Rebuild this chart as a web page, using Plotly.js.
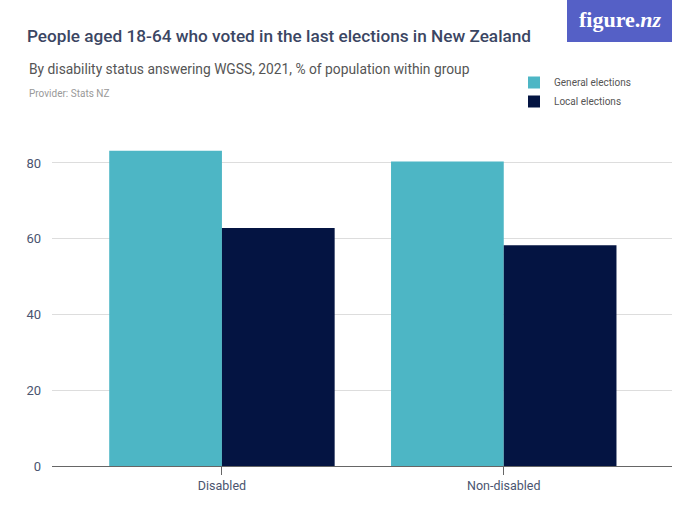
<!DOCTYPE html>
<html>
<head>
<meta charset="utf-8">
<script src="https://cdn.plot.ly/plotly-3.0.1.min.js"></script>
<style>html,body{margin:0;padding:0;background:#fff}#chart{width:700px;height:525px}</style>
</head>
<body>
<div id="chart"></div>
<script>
var categories = ["Disabled", "Non-disabled"];
var generalElections = [83.2, 80.4];
var localElections = [62.8, 58.3];
var seriesNames = ["General elections", "Local elections"];
var yTicks = [0, 20, 40, 60, 80];

var FONT = "Roboto, 'Liberation Sans', sans-serif";
var PH = 336; // plot height in px (bottom at y=466)
function py(pix) { return (466 - pix) / PH; }
function px(pix) { return (pix - 52) / 620; }

var traces = [
  {type: "bar", name: seriesNames[0], x: categories, y: generalElections,
   marker: {color: "#4db6c5"}, hoverinfo: "y"},
  {type: "bar", name: seriesNames[1], x: categories, y: localElections,
   marker: {color: "#041442"}, hoverinfo: "y"}
];

var layout = {
  width: 700, height: 525,
  margin: {l: 52, r: 28, t: 130, b: 59},
  paper_bgcolor: "#fff", plot_bgcolor: "#fff",
  font: {family: FONT, color: "#4a5570", size: 13},
  barmode: "group", bargap: 0.2, bargroupgap: 0,
  showlegend: true,
  legend: {x: px(514), y: py(68), xanchor: "left", yanchor: "top",
           font: {family: FONT, size: 10, color: "#555"},
           bgcolor: "rgba(0,0,0,0)", tracegroupgap: 0},
  xaxis: {type: "category", range: [-0.603, 1.597], showgrid: false,
          showline: true, linecolor: "#666", linewidth: 1,
          ticks: "outside", ticklen: 8, tickcolor: "#666",
          tickfont: {family: FONT, size: 12.5, color: "#4a5570"}, fixedrange: true},
  yaxis: {range: [0, 88.7], tickvals: yTicks, ticktext: yTicks.map(String),
          showgrid: true, gridcolor: "#dddddd", zeroline: false, showline: false,
          ticks: "", ticklabelstandoff: 10,
          tickfont: {family: FONT, size: 13, color: "#4a5570"}, fixedrange: true},
  title: {text: "People aged 18-64 who voted in the last elections in New Zealand",
          x: 27/700, xanchor: "left", xref: "container", y: 1 - 36/525, yref: "container", yanchor: "middle",
          font: {family: FONT, size: 17.2, color: "#3b4663", weight: 500}},
  shapes: [
    {type: "rect", xref: "paper", yref: "paper",
     x0: px(567), x1: px(672), y0: py(42), y1: py(0),
     fillcolor: "#5560c6", line: {width: 0}, layer: "above"}
  ],
  annotations: [
    {text: "By disability status answering WGSS, 2021, % of population within group",
     xref: "paper", yref: "paper", x: px(27), y: py(69), xanchor: "left", yanchor: "middle",
     showarrow: false, font: {family: FONT, size: 13.8, color: "#555"}},
    {text: "Provider: Stats NZ",
     xref: "paper", yref: "paper", x: px(27), y: py(94), xanchor: "left", yanchor: "middle",
     showarrow: false, font: {family: FONT, size: 10, color: "#999"}},
    {text: "<b>figure.</b><b><i>nz</i></b>",
     xref: "paper", yref: "paper", x: px(620), y: py(19), xanchor: "center", yanchor: "middle",
     showarrow: false, font: {family: "'Liberation Serif', 'DejaVu Serif', serif", size: 22, color: "#fff"}}
  ]
};

Plotly.newPlot("chart", traces, layout, {displayModeBar: false, staticPlot: true});
</script>
</body>
</html>
